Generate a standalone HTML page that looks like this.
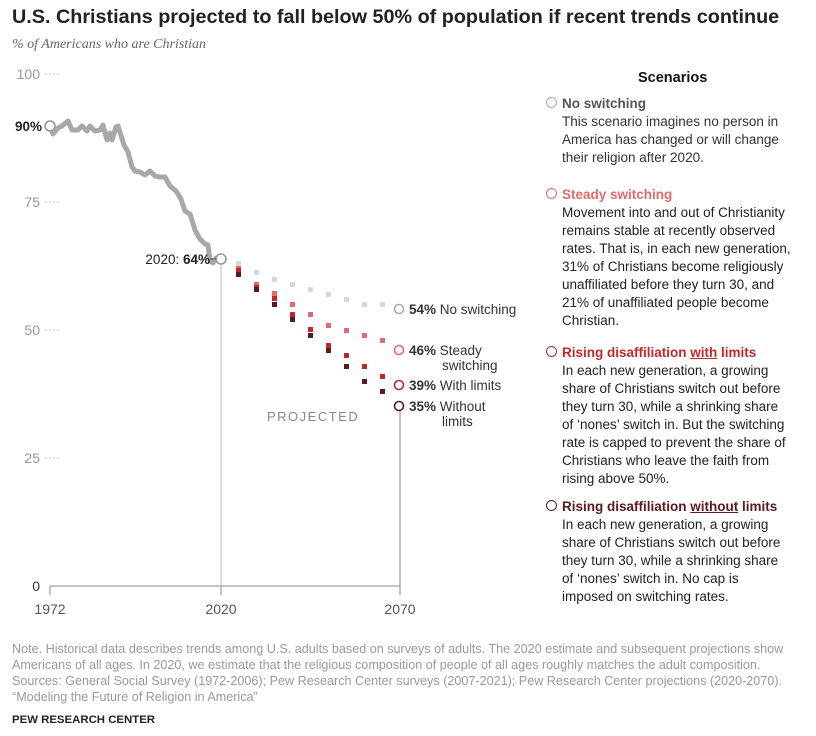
<!DOCTYPE html>
<html><head><style>
body{margin:0;width:816px;height:736px;background:#fff;font-family:"Liberation Sans",Arial,sans-serif;position:relative;overflow:hidden}
.a{position:absolute;white-space:nowrap}
.t{font-size:13.5px;line-height:18px;color:#333}
.h{font-weight:bold;font-size:13.5px;line-height:18px}
.c{display:inline-block;width:9px;height:9px;border:1.8px solid;border-radius:50%;position:absolute;left:-16px;top:2px}
</style></head><body>
<div class="a" style="left:12px;top:6px;font-size:19.8px;font-weight:bold;color:#222">U.S. Christians projected to fall below 50% of population if recent trends continue</div>
<div class="a" style="left:12px;top:37px;font-size:14px;font-style:italic;color:#666;font-family:'Liberation Serif',serif">% of Americans who are Christian</div>
<svg class="a" style="left:0;top:0" width="540" height="630" font-family="Liberation Sans, Arial, sans-serif">
<g fill="#999" font-size="14" text-anchor="end">
<text x="40" y="79">100</text><text x="40" y="207">75</text><text x="40" y="335">50</text><text x="40" y="463">25</text><text x="40" y="591" fill="#333">0</text></g>
<g stroke="#aaa" stroke-dasharray="1.5,2.5" stroke-width="1"><line x1="45" y1="74" x2="60" y2="74"/><line x1="45" y1="202" x2="60" y2="202"/><line x1="45" y1="330" x2="60" y2="330"/><line x1="45" y1="458" x2="60" y2="458"/></g>
<line x1="50" y1="586" x2="400" y2="586" stroke="#888" stroke-width="1"/>
<g stroke="#888"><line x1="50" y1="586" x2="50" y2="595"/><line x1="221" y1="586" x2="221" y2="595"/><line x1="400" y1="586" x2="400" y2="595"/></g>
<g fill="#555" font-size="14" text-anchor="middle"><text x="50" y="614">1972</text><text x="221" y="614">2020</text><text x="400" y="614">2070</text></g>
<line x1="221" y1="262" x2="221" y2="586" stroke="#bbb"/>
<line x1="400" y1="410" x2="400" y2="586" stroke="#888"/>
<polyline fill="none" stroke="#a8a8a8" stroke-width="5" stroke-linejoin="round" points="50,126 53,134 58,128 62,126 68,121 72,130 78,130 82,126 87,131 90,126 95,131 100,130 103,125 107,140 110,133 112,140 116,127 118,126 124,145 128,152 132,167 135,171 140,172 145,175 150,171 155,176 160,177 165,177 170,186 176,191 181,199 185,211 190,214 195,230 200,239 205,244 208,245 210,261 213,263 216,258 221,259"/>
<circle cx="50" cy="126" r="5" fill="#fff" stroke="#999" stroke-width="1.6"/>
<circle cx="221" cy="259" r="5" fill="#fff" stroke="#999" stroke-width="1.6"/>
<text x="42" y="131" text-anchor="end" font-size="13.5" font-weight="bold" fill="#222">90%</text>
<text x="210" y="264" text-anchor="end" font-size="13.5" fill="#222">2020: <tspan font-weight="bold">64%</tspan></text>
<line x1="210" y1="259" x2="216" y2="259" stroke="#555"/>
<g fill="#d6d6d6"><rect x="236" y="261" width="5" height="5"/><rect x="254" y="270" width="5" height="5"/><rect x="272" y="277" width="5" height="5"/><rect x="290" y="282" width="5" height="5"/><rect x="308" y="287" width="5" height="5"/><rect x="326" y="292" width="5" height="5"/><rect x="344" y="297" width="5" height="5"/><rect x="362" y="302" width="5" height="5"/><rect x="380" y="302" width="5" height="5"/></g>
<g fill="#e36a6a"><rect x="236" y="266" width="5" height="5"/><rect x="254" y="282" width="5" height="5"/><rect x="272" y="291" width="5" height="5"/><rect x="290" y="302" width="5" height="5"/><rect x="308" y="312" width="5" height="5"/><rect x="326" y="323" width="5" height="5"/><rect x="344" y="328" width="5" height="5"/><rect x="362" y="333" width="5" height="5"/><rect x="380" y="338" width="5" height="5"/></g>
<g fill="#c0282b"><rect x="236" y="268" width="5" height="5"/><rect x="254" y="285" width="5" height="5"/><rect x="272" y="296" width="5" height="5"/><rect x="290" y="312" width="5" height="5"/><rect x="308" y="327" width="5" height="5"/><rect x="326" y="343" width="5" height="5"/><rect x="344" y="353" width="5" height="5"/><rect x="362" y="364" width="5" height="5"/><rect x="380" y="374" width="5" height="5"/></g>
<g fill="#5c1a1c"><rect x="236" y="272" width="5" height="5"/><rect x="254" y="287" width="5" height="5"/><rect x="272" y="302" width="5" height="5"/><rect x="290" y="317" width="5" height="5"/><rect x="308" y="333" width="5" height="5"/><rect x="326" y="348" width="5" height="5"/><rect x="344" y="364" width="5" height="5"/><rect x="362" y="379" width="5" height="5"/><rect x="380" y="389" width="5" height="5"/></g>
<g fill="#fff" stroke-width="1.6"><circle cx="399" cy="309" r="4.5" stroke="#aaa"/><circle cx="399" cy="350" r="4.5" stroke="#e36a6a"/><circle cx="399" cy="385" r="4.5" stroke="#c0282b"/><circle cx="399" cy="406" r="4.5" stroke="#5c1a1c"/></g>
<g font-size="13.5" fill="#333">
<text x="409" y="314"><tspan font-weight="bold">54%</tspan> No switching</text>
<text x="409" y="355"><tspan font-weight="bold">46%</tspan> Steady</text><text x="442" y="370">switching</text>
<text x="409" y="390"><tspan font-weight="bold">39%</tspan> With limits</text>
<text x="409" y="411"><tspan font-weight="bold">35%</tspan> Without</text><text x="442" y="426">limits</text>
</g>
<text x="267" y="421" font-size="13" fill="#888" letter-spacing="1.5">PROJECTED</text>
</svg>
<div class="a" style="left:638px;top:70px;font-size:14.5px;font-weight:bold;color:#111">Scenarios</div>
<div class="a" style="left:562px;top:95px">
<div style="position:relative"><span class="c" style="border-color:#aaa"></span><div class="h" style="color:#555">No switching</div></div>
<div class="t">This scenario imagines no person in<br>America has changed or will change<br>their religion after 2020.</div></div>
<div class="a" style="left:562px;top:186px">
<div style="position:relative"><span class="c" style="border-color:#e36a6a"></span><div class="h" style="color:#e36a6a">Steady switching</div></div>
<div class="t" style="color:#222">Movement into and out of Christianity<br>remains stable at recently observed<br>rates. That is, in each new generation,<br>31% of Christians become religiously<br>unaffiliated before they turn 30, and<br>21% of unaffiliated people become<br>Christian.</div></div>
<div class="a" style="left:562px;top:344px">
<div style="position:relative"><span class="c" style="border-color:#c0282b"></span><div class="h" style="color:#c0282b">Rising disaffiliation <u>with</u> limits</div></div>
<div class="t" style="color:#222">In each new generation, a growing<br>share of Christians switch out before<br>they turn 30, while a shrinking share<br>of ‘nones’ switch in. But the switching<br>rate is capped to prevent the share of<br>Christians who leave the faith from<br>rising above 50%.</div></div>
<div class="a" style="left:562px;top:498px">
<div style="position:relative"><span class="c" style="border-color:#5c1a1c"></span><div class="h" style="color:#5c1a1c">Rising disaffiliation <u>without</u> limits</div></div>
<div class="t" style="color:#222">In each new generation, a growing<br>share of Christians switch out before<br>they turn 30, while a shrinking share<br>of ‘nones’ switch in. No cap is<br>imposed on switching rates.</div></div>
<div class="a" style="left:12px;top:641px;font-size:12.6px;line-height:16px;color:#999">Note. Historical data describes trends among U.S. adults based on surveys of adults. The 2020 estimate and subsequent projections show<br>Americans of all ages. In 2020, we estimate that the religious composition of people of all ages roughly matches the adult composition.<br>Sources: General Social Survey (1972-2006); Pew Research Center surveys (2007-2021); Pew Research Center projections (2020-2070).<br>“Modeling the Future of Religion in America”</div>
<div class="a" style="left:12px;top:714px;font-size:11.4px;font-weight:bold;color:#222">PEW RESEARCH CENTER</div>
</body></html>
